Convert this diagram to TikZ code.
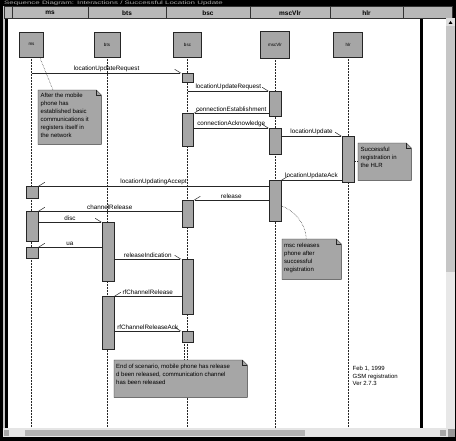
\documentclass[tikz,border=0pt]{standalone}
\usepackage{fontspec}
\setmainfont{Liberation Sans}
\usetikzlibrary{arrows.meta,calc}

\definecolor{boxgray}{gray}{0.65}
\definecolor{bargray}{gray}{0.72}
\definecolor{linegray}{gray}{0.15}

\tikzset{
head/.style={
draw=linegray,
fill=boxgray,
minimum height=25pt,
inner sep=0pt,
font=\fontsize{4.5}{5}\selectfont
},
act/.style={
draw=linegray,
fill=boxgray,
minimum width=11.5pt,
inner sep=0pt,
anchor=north
},
lifeline/.style={densely dotted,line width=0.5pt,linegray},
msgr/.style={-{Straight Barb[left,length=6pt,width=7.4pt]},line width=0.5pt,linegray},
msgl/.style={-{Straight Barb[right,length=6pt,width=7.4pt]},line width=0.5pt,linegray},
msglabel/.style={midway,above,inner sep=1pt,text=black,font=\fontsize{6.3}{7}\selectfont},
notebg/.style={fill=boxgray,inner sep=0pt,anchor=north west},
notetext/.style={anchor=north west,align=left,inner sep=0pt,font=\fontsize{6}{8}\selectfont},
noteline/.style={densely dotted,line width=0.5pt,linegray},
colhead/.style={font=\bfseries\fontsize{6.5}{7}\selectfont}
}

% outline and folded corner of a note
\newcommand{\notebox}[1]{%
\fill[white] ([xshift=-5pt]#1.north east) -- (#1.north east) -- ([yshift=-5pt]#1.north east) -- cycle;
\draw[linegray] (#1.south west) -- (#1.north west) -- ([xshift=-5pt]#1.north east) -- ([yshift=-5pt]#1.north east) -- (#1.south east) -- cycle;
\draw[linegray] ([xshift=-5pt]#1.north east) |- ([yshift=-5pt]#1.north east);
}

\begin{document}
\begin{tikzpicture}[x=1pt,y=-1pt]
\useasboundingbox (0,0) rectangle (456,441);

% window
\fill[black] (0,0) rectangle (456,441);
\fill[gray!45] (2.7,6.5) rectangle (5,437);
\fill[white] (8.3,18.5) rectangle (446,428);
\fill[black] (420,18.5) rectangle (422.5,428);
\node[anchor=west,inner sep=0pt,text=gray!65,font=\fontsize{4.8}{5}\selectfont] (title) at (4,3.3)
{\scalebox{1.65}[1]{Sequence Diagram: Interactions / Successful Location Update}};
\foreach \a/\b in {4/12,12/88,88/166,166/250,250/330,330/403,403/452}
\draw[fill=bargray,draw=gray!40!black] (\a,6.5) rectangle (\b,18.5);
\node[colhead] (hms) at (50,13) {ms};
\node[colhead] (hbts) at (127,13) {bts};
\node[colhead] (hbsc) at (208,13) {bsc};
\node[colhead] (hmsc) at (290,13) {mscVlr};
\node[colhead] (hhlr) at (366.5,13) {hlr};

% scroll bars
\fill[gray!18] (446,18.5) rectangle (455,428);
\fill[gray!45] (446,26) rectangle (455,272);
\fill[gray!25] (446,18.5) rectangle (455,26);
\fill[black] (448.5,24) -- (452.5,24) -- (450.5,21) -- cycle;
\fill[gray!20] (2.7,428) rectangle (455,437);
\fill[gray!60] (25,429.5) rectangle (305,435.5);
\fill[gray!70] (3.5,429.5) rectangle (9,435.5);
\fill[gray!70] (440,429.5) rectangle (446,435.5);
\fill[gray!80] (448,429) rectangle (455,437);

\coordinate (bottom) at (0,427.5);

% heads
\node[head,minimum width=24pt] (ms) at (31.5,44.5) {ms};
\node[head,minimum width=26pt] (bts) at (107,44.5) {bts};
\node[head,minimum width=28pt] (bsc) at (187.5,44.5) {bsc};
\node[head,minimum width=29pt,minimum height=27pt,thick] (msc) at (275,44.5) {mscVlr};
\node[head,minimum width=29pt] (hlr) at (348,44.5) {hlr};

\foreach \n in {ms,bts,bsc,msc,hlr}
\draw[lifeline] (\n.south) -- (\n |- bottom);

% activations
\node[act,minimum height=9.5pt] (bsc1) at (187.5,73) {};
\node[act,minimum height=25pt] (msc1) at (275,91) {};
\node[act,minimum height=33pt] (bsc2) at (187.5,113) {};
\node[act,minimum height=26pt] (msc2) at (275,128) {};
\node[act,minimum height=46pt] (hlr1) at (348,136) {};
\node[act,minimum height=41pt] (msc3) at (275,180) {};
\node[act,minimum height=12pt] (ms1) at (32,186) {};
\node[act,minimum height=27pt] (bsc3) at (187.5,200) {};
\node[act,minimum height=30pt] (ms2) at (32,211) {};
\node[act,minimum height=59pt] (bts1) at (108,222) {};
\node[act,minimum height=11pt] (ms3) at (32,247) {};
\node[act,minimum height=55pt] (bsc4) at (187.5,259) {};
\node[act,minimum height=53pt] (bts2) at (108,296) {};
\node[act,minimum height=11pt] (bsc5) at (187.5,331) {};

% messages
\draw[msgr] (ms |- bsc1.north) -- (bsc1.north west) node[msglabel]{locationUpdateRequest};
\draw[msgr] (bsc |- msc1.north) -- (msc1.north west) node[msglabel]{locationUpdateRequest};
\draw[msgl] (msc1.west |- bsc2.north) -- (bsc2.north east) node[msglabel]{connectionEstablishment};
\draw[msgr] (bsc2.east |- msc2.north) -- (msc2.north west) node[msglabel]{connectionAcknowledge};
\draw[msgr] (msc2.east |- hlr1.north) -- (hlr1.north west) node[msglabel]{locationUpdate};
\draw[msgl] (hlr1.west |- msc3.north) -- (msc3.north east) node[msglabel]{locationUpdateAck};
\draw[msgl] (msc3.west |- ms1.north) -- (ms1.north east) node[msglabel]{locationUpdatingAccept};
\draw[msgl] (msc3.west |- bsc3.north) -- (bsc3.north east) node[msglabel]{release};
\draw[msgl] (bsc3.west |- ms2.north) -- (ms2.north east) node[msglabel]{channelRelease};
\draw[msgr] (ms2.east |- bts1.north) -- (bts1.north west) node[msglabel]{disc};
\draw[msgl] (bts1.west |- ms3.north) -- (ms3.north east) node[msglabel]{ua};
\draw[msgr] (bts1.east |- bsc4.north) -- (bsc4.north west) node[msglabel]{releaseIndication};
\draw[msgl] (bsc4.west |- bts2.north) -- (bts2.north east) node[msglabel]{rfChannelRelease};
\draw[msgr] (bts2.east |- bsc5.north) -- (bsc5.north west) node[msglabel]{rfChannelReleaseAck};

% notes
\node[notebg,minimum width=63pt,minimum height=54pt] (n1) at (38,90) {};
\node[notebg,minimum width=53pt,minimum height=37pt] (n2) at (358,143) {};
\node[notebg,minimum width=59pt,minimum height=40pt] (n3) at (282,239) {};
\node[notebg,minimum width=133pt,minimum height=37pt] (n4) at (114,360) {};
\notebox{n1}
\notebox{n2}
\notebox{n3}
\notebox{n4}
\node[notetext] (t1) at ([shift={(2.5pt,-3pt)}]n1.north west)
{After the mobile\\phone has\\established basic\\communications it\\registers itself in\\the network};
\node[notetext] (t2) at ([shift={(2.5pt,-3.5pt)}]n2.north west)
{Successful\\registration in\\the HLR};
\node[notetext] (t3) at ([shift={(2pt,-4pt)}]n3.north west)
{msc releases\\phone after\\successful\\registration};
\node[notetext] (t4) at ([shift={(2pt,-4pt)}]n4.north west)
{End of scenario, mobile phone has release\\d been released, communication channel\\has been released};

\draw[noteline] ([xshift=-4pt]ms.south east) -- ([xshift=15pt]n1.north west);
\draw[noteline] (hlr1.east |- n2.west) -- (n2.west);
\draw[noteline] ([yshift=-5pt]msc3.east) .. controls +(12,4) and +(0,-16) .. ([xshift=-5.5pt]n3.north);
\draw[noteline] ([xshift=-3pt]bsc5.south) -- ([xshift=-3pt]bsc5.south |- n4.north);

\node[notetext,font=\fontsize{6}{7.7}\selectfont] (date) at (352.5,366)
{Feb 1, 1999\\GSM registration\\Ver 2.7.3};
\end{tikzpicture}
\end{document}
